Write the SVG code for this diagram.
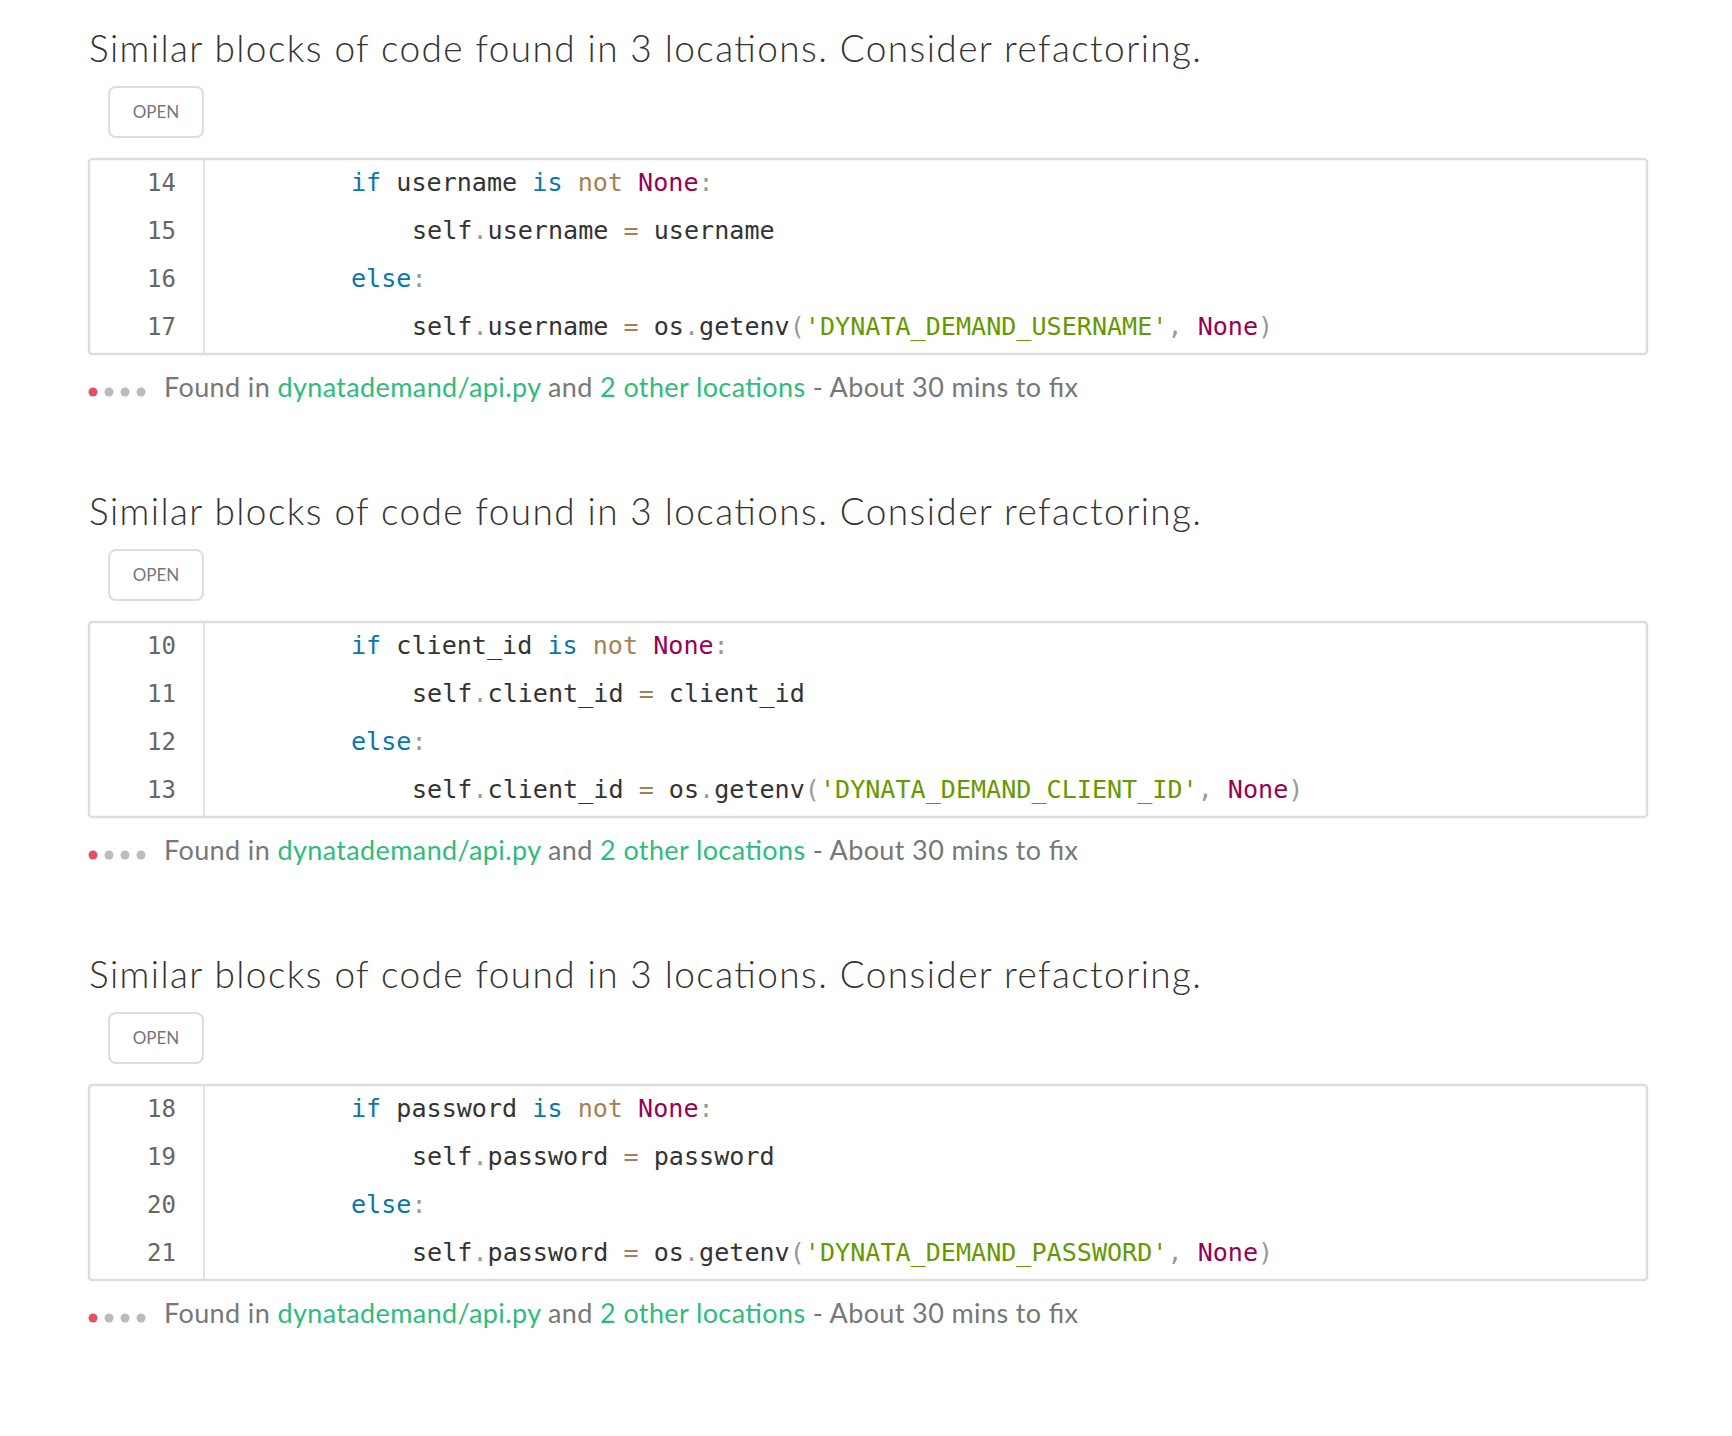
<svg xmlns="http://www.w3.org/2000/svg" width="1732" height="1436" viewBox="0 0 1732 1436">
<defs>
<style>
.title{font-family:Lato,"Open Sans","Liberation Sans",sans-serif;font-weight:300;font-size:37px;fill:#333}
.btn{fill:#fff;stroke:#ddd;stroke-width:2}
.btnt{font-family:Lato,"Liberation Sans",sans-serif;font-size:17px;fill:#777;text-anchor:middle}
.box{fill:#fff;stroke:#ddd;stroke-width:2.5}
.gut{stroke:#e2e2e2;stroke-width:2}
.ln{font-family:"DejaVu Sans Mono","Liberation Mono",monospace;font-size:24px;fill:#666;text-anchor:end}
.code{font-family:"DejaVu Sans Mono","Liberation Mono",monospace;font-size:25.1px;fill:#333;white-space:pre}
.k{fill:#0a77aa}.o{fill:#a67f59}.n{fill:#990055}.s{fill:#669900}.p{fill:#999}
.foot{font-family:Lato,"Open Sans","Liberation Sans",sans-serif;font-size:27px;fill:#777}
.lk{fill:#2fbb7d}
.rd{fill:#e05263}.gd{fill:#bbb}
</style>
<g id="dots"><circle cx="93" cy="392" r="4.5" class="rd"/><circle cx="109" cy="392" r="4.5" class="gd"/><circle cx="125" cy="392" r="4.5" class="gd"/><circle cx="141" cy="392" r="4.5" class="gd"/></g>
</defs>

<g id="issue1">
<text x="89" y="62" class="title" textLength="1112">Similar blocks of code found in 3 locations. Consider refactoring.</text>
<rect x="109" y="87" width="94" height="50" rx="7" class="btn"/><text x="156" y="118" class="btnt">OPEN</text>
<rect x="89" y="159" width="1558" height="195" rx="3" class="box"/><line x1="204" y1="160" x2="204" y2="353" class="gut"/>
<text x="176" y="191" class="ln">14</text><text x="176" y="239" class="ln">15</text><text x="176" y="287" class="ln">16</text><text x="176" y="335" class="ln">17</text>
<text x="351" y="191" class="code"><tspan class="k">if</tspan> username <tspan class="k">is</tspan> <tspan class="o">not</tspan> <tspan class="n">None</tspan><tspan class="p">:</tspan></text>
<text x="412" y="239" class="code">self<tspan class="p">.</tspan>username <tspan class="o">=</tspan> username</text>
<text x="351" y="287" class="code"><tspan class="k">else</tspan><tspan class="p">:</tspan></text>
<text x="412" y="335" class="code">self<tspan class="p">.</tspan>username <tspan class="o">=</tspan> os<tspan class="p">.</tspan>getenv<tspan class="p">(</tspan><tspan class="s">'DYNATA_DEMAND_USERNAME'</tspan><tspan class="p">,</tspan> <tspan class="n">None</tspan><tspan class="p">)</tspan></text>
<use href="#dots"/>
<text x="164" y="397" class="foot" textLength="914">Found in <tspan class="lk">dynatademand/api.py</tspan> and <tspan class="lk">2 other locations</tspan> - About 30 mins to fix</text>
</g>

<g id="issue2" transform="translate(0,463)">
<text x="89" y="62" class="title" textLength="1112">Similar blocks of code found in 3 locations. Consider refactoring.</text>
<rect x="109" y="87" width="94" height="50" rx="7" class="btn"/><text x="156" y="118" class="btnt">OPEN</text>
<rect x="89" y="159" width="1558" height="195" rx="3" class="box"/><line x1="204" y1="160" x2="204" y2="353" class="gut"/>
<text x="176" y="191" class="ln">10</text><text x="176" y="239" class="ln">11</text><text x="176" y="287" class="ln">12</text><text x="176" y="335" class="ln">13</text>
<text x="351" y="191" class="code"><tspan class="k">if</tspan> client_id <tspan class="k">is</tspan> <tspan class="o">not</tspan> <tspan class="n">None</tspan><tspan class="p">:</tspan></text>
<text x="412" y="239" class="code">self<tspan class="p">.</tspan>client_id <tspan class="o">=</tspan> client_id</text>
<text x="351" y="287" class="code"><tspan class="k">else</tspan><tspan class="p">:</tspan></text>
<text x="412" y="335" class="code">self<tspan class="p">.</tspan>client_id <tspan class="o">=</tspan> os<tspan class="p">.</tspan>getenv<tspan class="p">(</tspan><tspan class="s">'DYNATA_DEMAND_CLIENT_ID'</tspan><tspan class="p">,</tspan> <tspan class="n">None</tspan><tspan class="p">)</tspan></text>
<use href="#dots"/>
<text x="164" y="397" class="foot" textLength="914">Found in <tspan class="lk">dynatademand/api.py</tspan> and <tspan class="lk">2 other locations</tspan> - About 30 mins to fix</text>
</g>

<g id="issue3" transform="translate(0,926)">
<text x="89" y="62" class="title" textLength="1112">Similar blocks of code found in 3 locations. Consider refactoring.</text>
<rect x="109" y="87" width="94" height="50" rx="7" class="btn"/><text x="156" y="118" class="btnt">OPEN</text>
<rect x="89" y="159" width="1558" height="195" rx="3" class="box"/><line x1="204" y1="160" x2="204" y2="353" class="gut"/>
<text x="176" y="191" class="ln">18</text><text x="176" y="239" class="ln">19</text><text x="176" y="287" class="ln">20</text><text x="176" y="335" class="ln">21</text>
<text x="351" y="191" class="code"><tspan class="k">if</tspan> password <tspan class="k">is</tspan> <tspan class="o">not</tspan> <tspan class="n">None</tspan><tspan class="p">:</tspan></text>
<text x="412" y="239" class="code">self<tspan class="p">.</tspan>password <tspan class="o">=</tspan> password</text>
<text x="351" y="287" class="code"><tspan class="k">else</tspan><tspan class="p">:</tspan></text>
<text x="412" y="335" class="code">self<tspan class="p">.</tspan>password <tspan class="o">=</tspan> os<tspan class="p">.</tspan>getenv<tspan class="p">(</tspan><tspan class="s">'DYNATA_DEMAND_PASSWORD'</tspan><tspan class="p">,</tspan> <tspan class="n">None</tspan><tspan class="p">)</tspan></text>
<use href="#dots"/>
<text x="164" y="397" class="foot" textLength="914">Found in <tspan class="lk">dynatademand/api.py</tspan> and <tspan class="lk">2 other locations</tspan> - About 30 mins to fix</text>
</g>
</svg>
